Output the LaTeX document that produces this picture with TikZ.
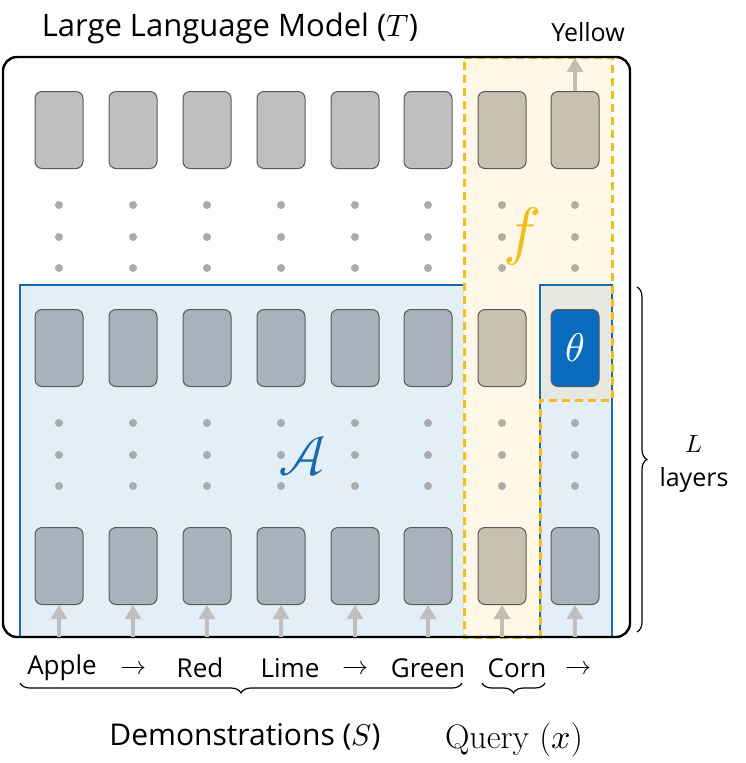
\documentclass[tikz,border=0pt]{standalone}
\usepackage{fontspec}
\setmainfont{Open Sans}
\usepackage{unicode-math}
\usetikzlibrary{decorations.pathreplacing,arrows.meta}
\definecolor{bluefill}{HTML}{E4EEF7}
\definecolor{blueline}{HTML}{1A6BAE}
\definecolor{yfill}{HTML}{FFF8E6}
\definecolor{yline}{HTML}{F4BC1C}
\definecolor{gbox}{HTML}{BFBFBF}
\definecolor{bbox}{HTML}{A9B2BC}
\definecolor{tbox}{HTML}{C8C1AF}
\definecolor{tdot}{HTML}{B5AD9D}
\definecolor{thcell}{HTML}{E6E9E2}
\definecolor{thbox}{HTML}{0A6CBE}
\tikzset{
 cell/.style={draw=black!65,line width=1pt,rounded corners=7pt,minimum width=48pt,minimum height=77pt,inner sep=0pt},
 dot/.style={circle,fill=#1,inner sep=0pt,minimum size=8pt},
 up/.style={draw=#1,line width=4.5pt,-{Triangle[width=16pt,length=14pt]}},
 lbl/.style={font=\fontsize{26}{28}\selectfont},
 brace/.style={decorate,decoration={brace,amplitude=10pt},line width=1.2pt}
}
\begin{document}
\begin{tikzpicture}[x=1pt,y=-1pt]
\useasboundingbox (0,0) rectangle (745,763);
% regions
\fill[bluefill] (20,285) rectangle (612,637);
\fill[yfill] (464,57) -- (612,57) -- (612,400) -- (540,400) -- (540,637) -- (464,637) -- cycle;
\fill[thcell] (540,285) rectangle (612,400);
\draw[blueline,line width=2.6pt] (464,637) -- (20,637) -- (20,285) -- (464,285);
\draw[blueline,line width=2.6pt] (540,637) -- (540,285) -- (612,285) -- (612,637) -- cycle;
\draw[yline,line width=3pt,dash pattern=on 8pt off 5pt] (464,57) -- (612,57) -- (612,400) -- (540,400) -- (540,637) -- (464,637) -- cycle;
\draw[line width=2.4pt,rounded corners=14pt] (3,57) rectangle (630,637);
% cells
\foreach \x [count=\i] in {59,133,207,281,355,428}{
 \node[cell,fill=gbox] (t\i) at (\x,130) {};
 \node[cell,fill=bbox] (m\i) at (\x,348) {};
 \node[cell,fill=bbox] (b\i) at (\x,566) {};
 \foreach \y in {205,237,268}{\node[dot=black!33] at (\x,\y) {};}
 \foreach \y in {423,455,486}{\node[dot=black!33] at (\x,\y) {};}
 \coordinate (s\i) at (\x,637);
 \draw[up=black!25] (s\i) -- (b\i);
}
\node[cell,fill=tbox] (t7) at (502,130) {};
\node[cell,fill=tbox] (t8) at (575,130) {};
\node[cell,fill=tbox] (m7) at (502,348) {};
\node[cell,fill=thbox,text=white,font=\fontsize{40}{40}\selectfont] (m8) at (575,348) {$\theta$};
\node[cell,fill=tbox] (b7) at (502,566) {};
\node[cell,fill=bbox] (b8) at (575,566) {};
\foreach \y in {205,237,268}{\node[dot=tdot] at (502,\y) {};\node[dot=tdot] at (575,\y) {};}
\node[dot=tdot] at (502,423) {};
\foreach \y in {455,486}{\node[dot=black!33] at (502,\y) {};}
\foreach \y in {423,455,486}{\node[dot=black!33] at (575,\y) {};}
\coordinate (s7) at (502,637); \coordinate (s8) at (575,637);
\draw[up=tdot!80] (s7) -- (b7);
\draw[up=black!25] (s8) -- (b8);
\coordinate (top8) at (575,58);
\draw[up=tdot!80] (t8) -- (top8);
% letters
\node[text=yline,font=\fontsize{64}{64}\selectfont] (f) at (522,236) {$f$};
\node[text=blueline,font=\fontsize{56}{56}\selectfont] (A) at (302,456) {$\mathcal{A}$};
% titles
\node[lbl,font=\fontsize{31}{34}\selectfont] (title) at (230,28) {Large Language Model ($T$)};
\node[lbl,font=\fontsize{25}{28}\selectfont] (yel) at (588,32) {Yellow};
% right brace
\coordinate (rb1) at (637,287); \coordinate (rb2) at (637,632);
\draw[brace] (rb1) -- (rb2);
\node[lbl,align=center,font=\fontsize{25}{34}\selectfont] (L) at (694,464) {$L$\\layers};
% token labels
\foreach \t/\x in {Apple/62,$\rightarrow$/133,Red/200,Lime/290,$\rightarrow$/355,Green/428,Corn/517,$\rightarrow$/578}{
 \node[lbl] at (\x,668) {\t};}
\coordinate (d1) at (462,683); \coordinate (d2) at (20,683);
\draw[brace] (d1) -- (d2);
\coordinate (q1) at (545,683); \coordinate (q2) at (482,683);
\draw[brace] (q1) -- (q2);
\node[lbl,font=\fontsize{30}{32}\selectfont] (demo) at (245,737) {Demonstrations ($S$)};
\node[font=\fontsize{34}{36}\selectfont] (query) at (514,740) {\fontspec{Latin Modern Roman}Query ($x$)};
\end{tikzpicture}
\end{document}
